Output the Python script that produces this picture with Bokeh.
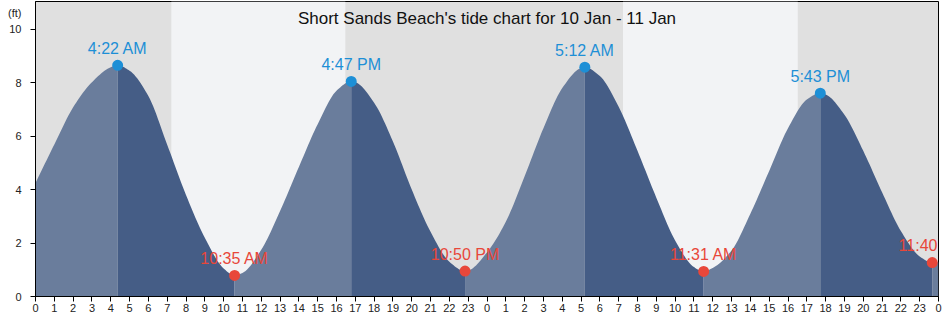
import numpy as np
from bokeh.plotting import figure
from bokeh.models import Range1d, FixedTicker, Label, ColumnDataSource
from bokeh.core.properties import value
from bokeh.embed import file_html
from bokeh.resources import INLINE

# ---- data ----
hours = list(range(49))
heights = [4.25, 5.69, 7.08, 8.02, 8.58, 8.45, 7.5, 5.68, 3.8, 2.2, 1.05,
           0.88, 1.75, 3.2, 4.85, 6.45, 7.7, 8.02, 7.25, 5.8, 4.0, 2.42, 1.3,
           0.97, 1.65, 2.8, 4.5, 6.3, 7.8, 8.55, 8.25, 7.1, 5.45, 3.7, 2.1, 1.1,
           1.07, 1.72, 3.1, 4.7, 6.3, 7.37, 7.56, 6.8, 5.45, 3.9, 2.45, 1.5, 1.28]

extreme_hours = [4.367, 10.583, 16.783, 22.833, 29.2, 35.517, 41.717, 47.667]
extreme_heights = [8.65, 0.79, 8.05, 0.95, 8.58, 0.94, 7.61, 1.27]
extreme_labels = ["4:22 AM", "10:35 AM", "4:47 PM", "10:50 PM",
                  "5:12 AM", "11:31 AM", "5:43 PM", "11:40 PM"]
extreme_kinds = ["high", "low", "high", "low", "high", "low", "high", "low"]

sunrise = [7.22, 31.23]
sunset = [16.47, 40.52]

y_ticks = [0, 2, 4, 6, 8, 10]
x_ticks = list(range(49))
x_tick_labels = [str(h % 24) for h in x_ticks]

title_text = "Short Sands Beach's tide chart for 10 Jan - 11 Jan"
unit_text = "(ft)"
unit_level = 10.6   # where the unit caption sits on the height scale

# ---- styles ----
NIGHT = "#e0e0e0"
DAY = "#f2f3f5"
RISE = "#6a7d9c"
FALL = "#455d86"
HIGH_C = "#1d8fd6"
LOW_C = "#e8473a"
FONT = "Liberation Sans"
Y_TOP = 11.04

p = figure(width=942, height=318, x_range=Range1d(0, 48), y_range=Range1d(0, Y_TOP),
           output_backend="svg", toolbar_location=None,
           min_border_left=35, min_border_right=4, min_border_top=1, min_border_bottom=22)
p.background_fill_color = NIGHT
p.border_fill_color = "white"
p.outline_line_color = "black"
p.outline_line_width = 1
p.xgrid.visible = False
p.ygrid.visible = False

# daylight shading
p.quad(left=sunrise, right=sunset, bottom=0, top=Y_TOP, fill_color=DAY, line_color=None)

# merged knots (readings + extremes), drawn as a smooth monotone curve
pts = sorted(list(zip(hours, heights)) + list(zip(extreme_hours, extreme_heights)))
kx = np.array([a for a, _ in pts], dtype=float)
ky = np.array([b for _, b in pts], dtype=float)
hk = np.diff(kx)
dk = np.diff(ky) / hk
m = np.zeros_like(kx)
m[0], m[-1] = dk[0], dk[-1]
for k in range(1, len(kx) - 1):
    if dk[k - 1] * dk[k] <= 0:
        m[k] = 0.0
    else:
        w1 = 2 * hk[k] + hk[k - 1]
        w2 = hk[k] + 2 * hk[k - 1]
        m[k] = (w1 + w2) / (w1 / dk[k - 1] + w2 / dk[k])
sx, sy = [], []
for k in range(len(kx) - 1):
    t = np.linspace(0, 1, 12, endpoint=False)
    h00 = 2 * t**3 - 3 * t**2 + 1
    h10 = t**3 - 2 * t**2 + t
    h01 = -2 * t**3 + 3 * t**2
    h11 = t**3 - t**2
    sx.extend(kx[k] + t * hk[k])
    sy.extend(h00 * ky[k] + h10 * hk[k] * m[k] + h01 * ky[k + 1] + h11 * hk[k] * m[k + 1])
sx.append(kx[-1])
sy.append(ky[-1])
sx = np.array(sx)
sy = np.array(sy)

bounds = [0] + extreme_hours + [48]
xs_list, ys_list, colors = [], [], []
for i in range(len(bounds) - 1):
    a, b = bounds[i], bounds[i + 1]
    sel = (sx >= a - 1e-9) & (sx <= b + 1e-9)
    xs = [a] + list(sx[sel]) + [b]
    ys = [0] + list(sy[sel]) + [0]
    xs_list.append(xs)
    ys_list.append(ys)
    if i < len(extreme_kinds):
        rising = extreme_kinds[i] == "high"
    else:
        rising = extreme_kinds[-1] == "low"
    colors.append(RISE if rising else FALL)

p.patches(xs_list, ys_list, fill_color=colors, line_color=None)

# extrema markers and labels
ecolors = [HIGH_C if k == "high" else LOW_C for k in extreme_kinds]
src = ColumnDataSource(dict(x=extreme_hours, y=extreme_heights, t=extreme_labels, c=ecolors))
p.scatter("x", "y", source=src, size=11, fill_color="c", line_color=None)
p.text("x", "y", text="t", source=src, text_color="c", text_font=value(FONT),
       text_font_size="16px", text_align="center", text_baseline="middle", y_offset=-17)

# title
p.add_layout(Label(x=24, y=10.4, text=title_text, text_font=FONT, text_font_size="17px",
                   text_color="#111111", text_align="center", text_baseline="middle"))

# x axis
p.xaxis.ticker = FixedTicker(ticks=x_ticks)
p.xaxis.major_label_overrides = {t: l for t, l in zip(x_ticks, x_tick_labels)}
p.xaxis.major_tick_out = 5
p.xaxis.major_tick_in = 0
p.xaxis.major_tick_line_color = "black"
p.xaxis.major_label_standoff = 2
p.xaxis.minor_tick_line_color = None

# y axis: value labels plus the unit caption; tick marks drawn as minor ticks
p.yaxis.ticker = FixedTicker(ticks=y_ticks + [unit_level], minor_ticks=y_ticks)
p.yaxis.major_label_overrides = {unit_level: unit_text}
p.yaxis.major_tick_out = 0
p.yaxis.major_tick_in = 0
p.yaxis.major_tick_line_color = None
p.yaxis.minor_tick_out = 5
p.yaxis.minor_tick_in = 0
p.yaxis.minor_tick_line_color = "black"
p.yaxis.major_label_standoff = 9

for ax in (p.xaxis, p.yaxis):
    ax.axis_line_color = "black"
    ax.major_label_text_font = FONT
    ax.major_label_text_font_size = "11px"
    ax.major_label_text_color = "#222222"

open("out.html", "w").write(file_html(p, INLINE))
